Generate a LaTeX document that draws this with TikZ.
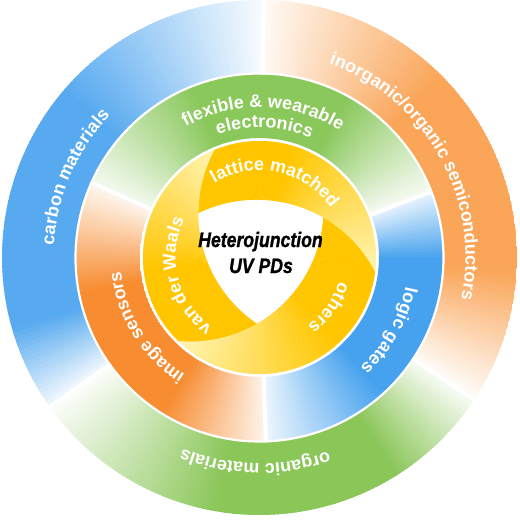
\documentclass[tikz,border=0pt]{standalone}
\usepackage{fontspec}
\setmainfont{Liberation Sans}
\newfontfamily\hubfont{Liberation Sans}[BoldItalicFeatures={FakeBold=1.2}]
\usepackage{graphicx}
\usetikzlibrary{decorations.text,calc}

\definecolor{oblue}{RGB}{88,170,240}
\definecolor{oorange}{RGB}{250,165,88}
\definecolor{ogreen}{RGB}{138,198,88}
\definecolor{mgreen}{RGB}{138,200,92}
\definecolor{mblue}{RGB}{70,162,238}
\definecolor{morange}{RGB}{247,140,48}
\definecolor{ydeep}{RGB}{255,198,0}
\definecolor{ypale}{RGB}{255,244,178}

\newcommand\lbl{\fontsize{18}{18}\selectfont\bfseries\color{white}}

% #1 colour, #2 inner r, #3 outer r, #4 start angle, #5 end angle,
% #6 ramp width at start, #7 ramp width at end, #8 pale floor (percent)
\newcommand\ringseg[8]{%
  \begin{scope}
    \clip (#4:#2) arc[start angle=#4,end angle=#5,radius=#2] -- (#5:#3)
          arc[start angle=#5,end angle=#4,radius=#3] -- cycle;
    \pgfmathtruncatemacro\lo{floor(#4)-1}
    \pgfmathtruncatemacro\hi{ceil(#5)}
    \foreach \ang in {\lo,...,\hi}{%
      \pgfmathsetmacro\gt{max(0,min(1,((\ang)-(#4))/(#6),((#5)-(\ang))/(#7)))}
      \pgfmathsetmacro\pc{#8+(100-#8)*\gt}
      \fill[#1!\pc!white] (\ang:#2) arc[start angle=\ang,end angle=\ang+1.3,radius=#2]
        -- (\ang+1.3:#3) arc[start angle=\ang+1.3,end angle=\ang,radius=#3] -- cycle;
    }
  \end{scope}}

% #1 circle to stay outside, #2 circle to stay inside, #3 start angle (deep),
% #4 angular span, #5 #6 loop range
\newcommand\blade[6]{%
  \begin{scope}
    \clip (0,0) circle (116.5);
    \clip (-300,-300) -- (-300,300) -- (300,300) -- (300,-300) -- cycle
          ([shift={(133.2,0)}]#1) arc[start angle=0,end angle=360,radius=133.2] -- cycle;
    \clip (#2) circle (133.2);
    \foreach \ang in {#5,...,#6}{%
      \pgfmathsetmacro\gt{max(0,min(1,(((#3)-(\ang))-40)/((#4)-40)))}
      \pgfmathsetmacro\pc{100*(1-\gt)}
      \fill[ydeep!\pc!ypale] (0,0) -- (\ang:120) arc[start angle=\ang,end angle=\ang+1.3,radius=120] -- cycle;
    }
  \end{scope}}

\tikzset{
  arctext/.style={decorate,decoration={text along path,text align=center,text={|\lbl|#1}}},
  sep/.style={white,line width=4},
  hub/.style={font=\hubfont\fontsize{21}{22}\selectfont\bfseries\itshape,text=black,inner sep=0pt,anchor=base}
}

\begin{document}
\begin{tikzpicture}[x=1pt,y=1pt]
\useasboundingbox (-259.5,-262.5) rectangle (260.5,257.5);
\fill[white] (-259.5,-262.5) rectangle (260.5,257.5);

\coordinate (c1) at ($(0,6)+(-92:81.7)$);
\coordinate (c2) at ($(0,6)+(148:81.7)$);
\coordinate (c3) at ($(0,6)+(28:81.7)$);

% outer ring
\ringseg{oblue}{184}{257.5}{89}{215.5}{50}{20}{4}
\ringseg{oorange}{184}{257.5}{-33.5}{89}{30}{45}{4}
\ringseg{ogreen}{184}{257.5}{-144.5}{-33.5}{45}{25}{3}
% middle ring
\ringseg{mgreen}{119.5}{184}{21}{156}{40}{45}{8}
\ringseg{morange}{119.5}{184}{156}{272}{35}{35}{8}
\ringseg{mblue}{119.5}{184}{-88}{21}{40}{22}{10}

% separators
\draw[white,line width=2.2] (0,0) circle (184);
\foreach \a in {89,-33.5,215.5} \draw[sep] (\a:183) -- (\a:259);
\foreach \a in {156,21,-88} \draw[sep] (\a:117) -- (\a:185);

% inner swirl
\fill[ypale] (0,0) circle (116.5);
\blade{c1}{c3}{112.8}{120.1}{-15}{160}
\blade{c2}{c1}{-7.3}{127}{-140}{40}
\blade{c3}{c2}{225.7}{112.9}{105}{275}
\begin{scope}
  \clip (c1) circle (133.2);
  \clip (c2) circle (133.2);
  \fill[white] (c3) circle (133.2);
\end{scope}

% labels on arcs
\path[arctext={carbon materials}] (226.5:206) arc[start angle=226.5,end angle=86.5,radius=206];
\path[arctext={inorganic/organic semiconductors}] (99.3:206) arc[start angle=99.3,end angle=-40.7,radius=206];
\path[arctext={organic materials}] (-21.2:206) arc[start angle=-21.2,end angle=-161.2,radius=206];
\path[arctext={flexible {\&} wearable}] (158.5:150) arc[start angle=158.5,end angle=18.5,radius=150];
\path[arctext={electronics}] (157.8:130) arc[start angle=157.8,end angle=17.8,radius=130];
\path[arctext={logic gates}] (40.6:149) arc[start angle=40.6,end angle=-99.4,radius=149];
\path[arctext={image sensors}] (281.7:139) arc[start angle=281.7,end angle=141.7,radius=139];
\path[arctext={lattice matched}] (158:87) arc[start angle=158,end angle=-2,radius=87];
\path[arctext={van der Waals}] (274.5:84) arc[start angle=274.5,end angle=114.5,radius=84];
\path[arctext={others}] (44.25:83) arc[start angle=44.25,end angle=-115.75,radius=83];

% centre title
\node[hub] (h1) at (1,10.5) {\scalebox{0.84}[1]{Heterojunction}};
\node[hub] (h2) at (1.5,-15.5) {\scalebox{0.84}[1]{UV PDs}};
\end{tikzpicture}
\end{document}
